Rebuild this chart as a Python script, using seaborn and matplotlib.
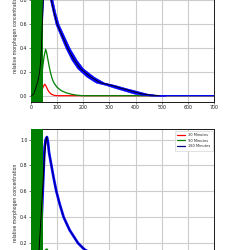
import matplotlib
matplotlib.use("Agg")
import matplotlib.pyplot as plt
import seaborn as sns

# ---------------- data ----------------
labels = ["30 Minutes", "90 Minutes", "180 Minutes"]
xticks = [0, 100, 200, 300, 400, 500, 600, 700]
yticks = [0.0, 0.2, 0.4, 0.6, 0.8, 1.0]
source_end = 46

# top panel
top_red_x = [0, 20, 30, 40, 46, 52, 56, 60, 65, 70, 78, 90, 100, 700]
top_red_y = [0, 0, 0.01, 0.04, 0.07, 0.096, 0.088, 0.068, 0.046, 0.029, 0.012, 0.002, 0, 0]
top_green_x = [0, 20, 30, 40, 46, 50, 56, 60, 65, 70, 75, 80, 85, 90, 100, 116, 135, 155, 175, 200, 700]
top_green_y = [0, 0.005, 0.04, 0.15, 0.26, 0.33, 0.39, 0.36, 0.3, 0.24, 0.19, 0.15, 0.12, 0.1, 0.07,
               0.042, 0.024, 0.012, 0.004, 0, 0]
top_180_x = [0, 10, 20, 27, 33, 37, 40, 43, 47, 52, 57, 62, 67, 78, 88, 100, 120, 140, 165, 188, 226,
             264, 303, 341, 379, 418, 456, 490, 700]
top_180_y = [0, 0.01, 0.076, 0.13, 0.2, 0.29, 0.4, 0.6, 0.8, 0.93, 1.0, 0.97, 0.9, 0.8, 0.7, 0.6, 0.5,
             0.4, 0.3, 0.23, 0.16, 0.11, 0.09, 0.065, 0.042, 0.018, 0.006, 0, 0]
top_band_y = [1.0, 0.9, 0.8, 0.7, 0.6, 0.5, 0.4, 0.3, 0.23, 0.16, 0.11, 0.09, 0.065, 0.042, 0.018, 0.006, 0.0]
top_band_lo = [55, 63, 73, 83, 94, 113, 132, 155, 177, 212, 248, 285, 321, 356, 393, 429, 462]
top_band_hi = [61, 71, 83, 93, 106, 127, 148, 175, 199, 240, 280, 321, 361, 402, 443, 480, 515]

# bottom panel
bot_red_x = [0, 30, 40, 50, 56, 65, 80, 100, 700]
bot_red_y = [0, 0.005, 0.02, 0.035, 0.04, 0.025, 0.008, 0, 0]
bot_green_x = [0, 20, 30, 40, 46, 52, 56, 61, 66, 75, 90, 110, 150, 200, 700]
bot_green_y = [0, 0.002, 0.02, 0.07, 0.1, 0.135, 0.15, 0.155, 0.14, 0.1, 0.06, 0.03, 0.008, 0, 0]
bot_black_x = [0, 10, 20, 25, 31, 47, 52, 57, 61]
bot_black_y = [0, 0.0, 0.03, 0.07, 0.15, 0.7, 0.88, 0.98, 1.02]
bot_blue_x = [0, 20, 30, 40, 45, 49, 52, 56, 61, 65, 69, 78, 87, 97, 110, 125, 148, 180, 205, 250, 330, 480, 700]
bot_blue_y = [0, 0.01, 0.1, 0.35, 0.6, 0.8, 0.94, 1.0, 1.02, 0.98, 0.9, 0.8, 0.7, 0.6, 0.5, 0.4, 0.3, 0.2,
              0.15, 0.1, 0.05, 0, 0]

# ---------------- style ----------------
sns.set_style("whitegrid", {"axes.edgecolor": "0.1", "grid.color": "0.8",
                            "xtick.bottom": True, "ytick.left": True})
plt.rcParams['font.family'] = ['DejaVu Sans']
plt.rcParams['axes.linewidth'] = 0.7
plt.rcParams['grid.linewidth'] = 0.8

fig = plt.figure(figsize=(2.5, 2.5), dpi=100)
ax_top = fig.add_axes([0.124, 0.592, 0.732, 0.549])
ax_bot = fig.add_axes([0.124, -0.102, 0.732, 0.585])

def style(ax, ylim):
    ax.set_xlim(0, 700)
    ax.set_ylim(*ylim)
    ax.set_xticks(xticks)
    ax.set_yticks(yticks)
    ax.set_yticklabels([f"{v:.1f}" for v in yticks])
    ax.tick_params(labelsize=3.4, length=1.5, width=0.4, pad=1, colors="0.1")
    ax.set_ylabel("relative morphogen concentration", fontsize=3.3, labelpad=1.5)
    ax.set_xlabel("")
    ax.axvspan(0, source_end, color="green", lw=0, zorder=3)

# top
sns.lineplot(x=top_red_x, y=top_red_y, color="red", lw=0.9, ax=ax_top, zorder=2)
sns.lineplot(x=top_green_x, y=top_green_y, color="green", lw=0.9, ax=ax_top, zorder=2)
ax_top.fill_betweenx(top_band_y, top_band_lo, top_band_hi, color="blue", lw=0.4, ec="blue", zorder=2)
sns.lineplot(x=top_180_x, y=top_180_y, color="blue", lw=0.9, ax=ax_top, zorder=2)
sns.lineplot(x=top_180_x[:-1], y=top_180_y[:-1], color="black", lw=0.6, ax=ax_top, zorder=4)
style(ax_top, (-0.053, 1.1))

# bottom
sns.lineplot(x=bot_red_x, y=bot_red_y, color="red", lw=0.9, ax=ax_bot, zorder=2, label=labels[0])
sns.lineplot(x=bot_green_x, y=bot_green_y, color="green", lw=0.9, ax=ax_bot, zorder=2, label=labels[1])
sns.lineplot(x=bot_blue_x, y=bot_blue_y, color="blue", lw=1.9, ax=ax_bot, zorder=2)
sns.lineplot(x=bot_blue_x, y=bot_blue_y, color="darkblue", lw=0.6, ax=ax_bot, zorder=2, label=labels[2])
sns.lineplot(x=bot_black_x, y=bot_black_y, color="black", lw=0.7, ax=ax_bot, zorder=4)
style(ax_bot, (-0.05, 1.08))
leg = ax_bot.legend(loc="upper right", fontsize=2.6, handlelength=2.2, borderpad=0.6,
                    labelspacing=0.5, borderaxespad=0.4, framealpha=1, edgecolor="0.8", fancybox=False)
leg.get_frame().set_linewidth(0.4)
for ln in leg.get_lines():
    ln.set_linewidth(0.9)
leg.set_zorder(10)

fig.savefig("out.png", dpi=100)
